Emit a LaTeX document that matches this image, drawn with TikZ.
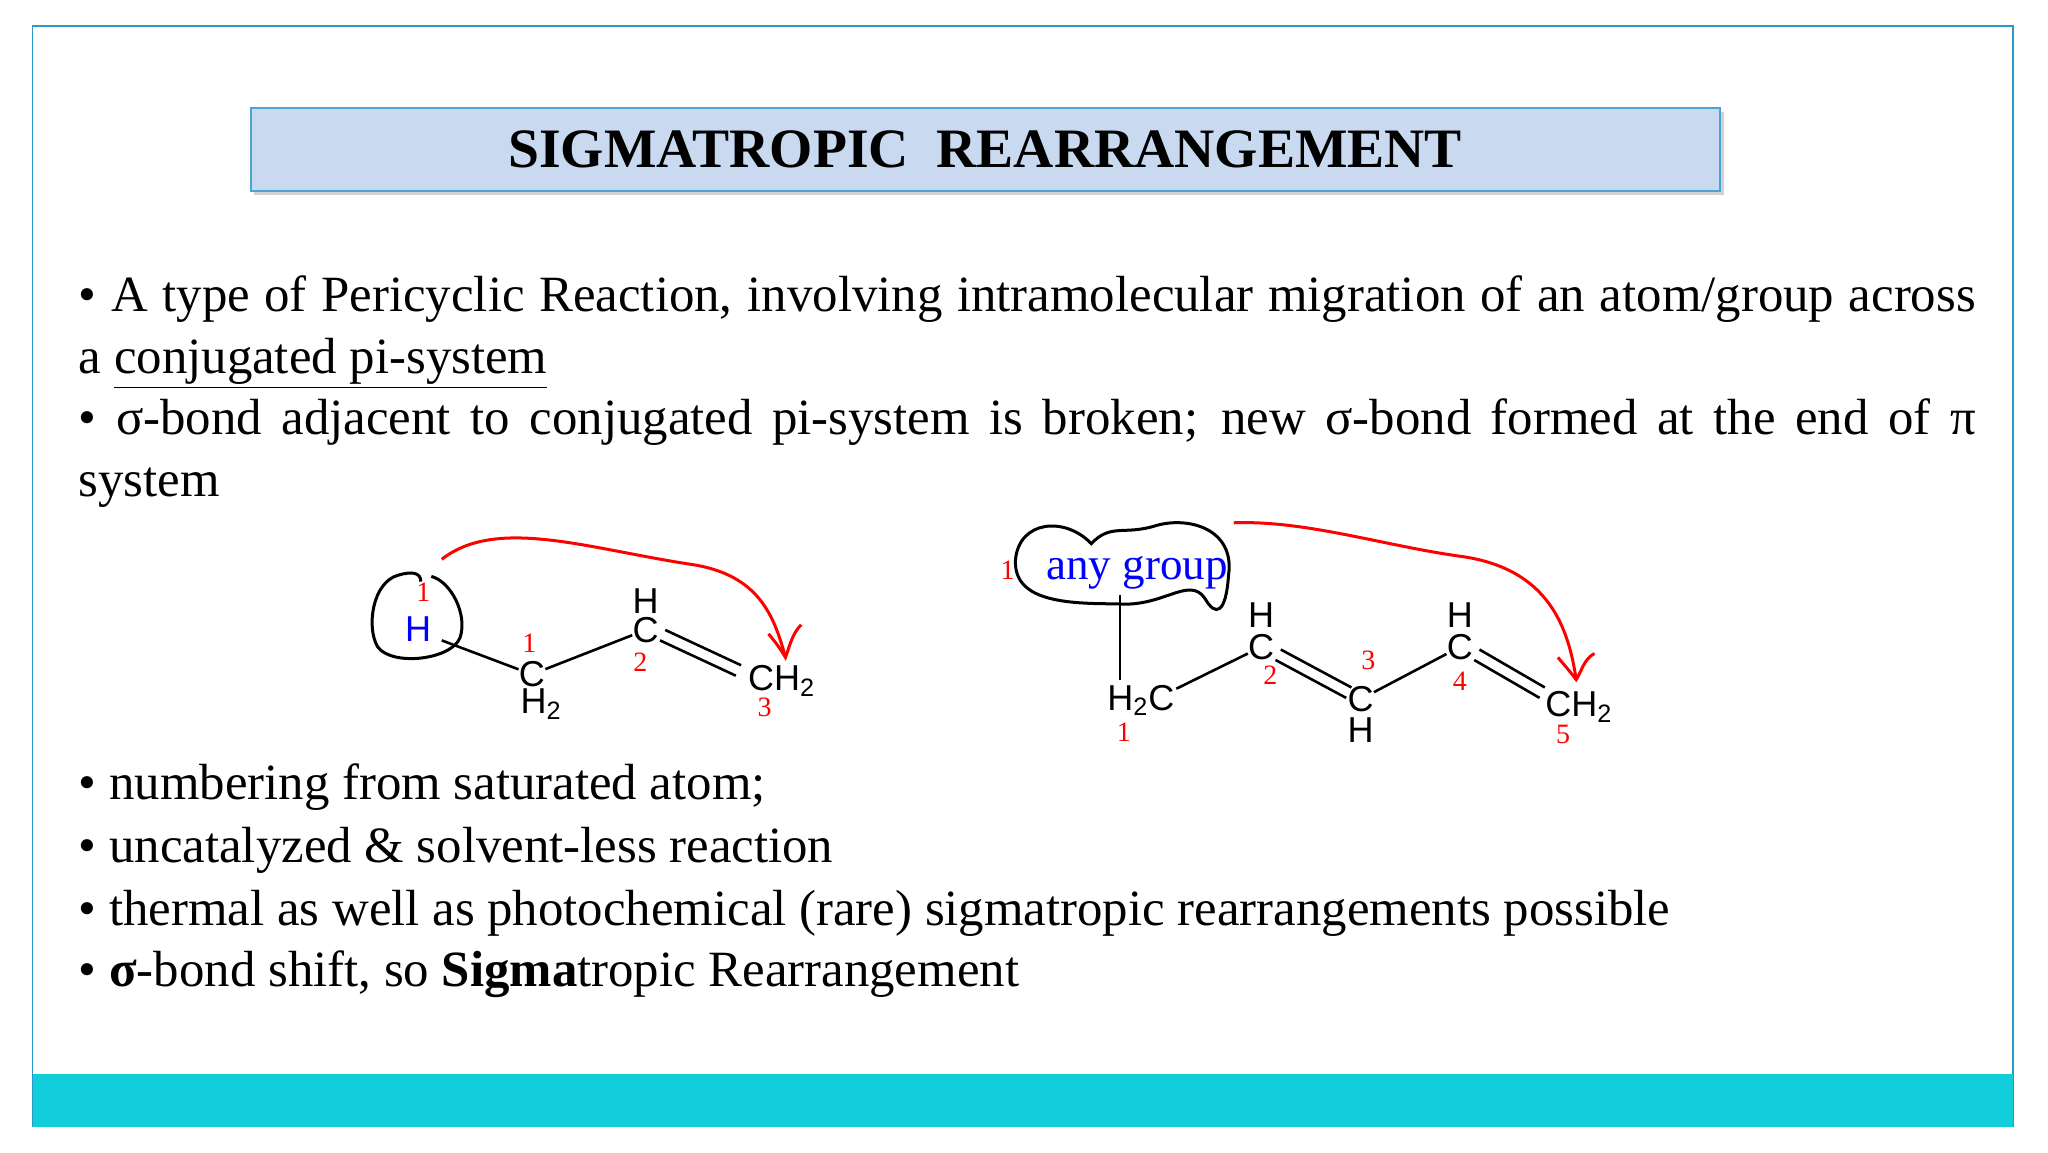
\documentclass[tikz,border=0pt]{standalone}
\usepackage{fontspec}
\setmainfont{Liberation Serif}
\newfontfamily\molfont{Liberation Sans}
\begin{document}
\begin{tikzpicture}[x=0.6532pt,y=-0.6532pt,
  body/.style={anchor=base west,inner sep=0pt,font=\fontsize{25.4}{31}\selectfont},
  para/.style={anchor=north west,inner sep=0pt,text width=948pt,align=justify,font=\fontsize{25.4}{31}\selectfont},
  atom/.style={inner sep=0pt,font=\molfont\fontsize{18}{18}\selectfont},
  num/.style={inner sep=0pt,text=red,font=\fontsize{14}{14}\selectfont},
  bond/.style={line width=1.3pt},
  arr/.style={red,line width=1.5pt},
  blob/.style={line width=1.5pt}]
\useasboundingbox (0,0) rectangle (1567,881.5);
\fill[white] (0,0) rectangle (1567,881.5);
\draw[draw=cyan!60!teal,line width=0.8pt] (25,20) rectangle (1540,862);
\fill[fill={rgb,255:red,17;green,206;blue,218}] (25,822) rectangle (1540,862);
% title
\fill[gray!35] (194,86) rectangle (1319,149);
\node[draw={rgb,255:red,75;green,163;blue,211},line width=1pt,fill={rgb,255:red,201;green,218;blue,240},minimum width=1124*0.6532pt,minimum height=63*0.6532pt,inner sep=0pt,anchor=north west] (title) at (191,82) {};
\node[font=\bfseries\fontsize{27.8}{28}\selectfont] (tt) at (title.center) {SIGMATROPIC\ \ REARRANGEMENT};
% paragraphs
\node[para] (p1) at (60,211) {\textbullet\ A type of Pericyclic Reaction, involving intramolecular migration of an atom/group across\linebreak a \underline{conjugated pi-system}};
\node[para] (p2) at (60,305) {\textbullet\ σ-bond adjacent to conjugated pi-system is broken; new σ-bond formed at the end of π\linebreak system};
\node[body] (b1) at (60,612) {\textbullet\ numbering from saturated atom;};
\node[body] (b2) at (60,660) {\textbullet\ uncatalyzed \& solvent-less reaction};
\node[body] (b3) at (60,708) {\textbullet\ thermal as well as photochemical (rare) sigmatropic rearrangements possible};
\node[body] (b4) at (60,755) {\textbullet\ \textbf{σ}-bond shift, so \textbf{Sigma}tropic Rearrangement};
% molecule 1
\draw[blob] (330,441) .. controls (345,445) and (358,470) .. (352,488)
  .. controls (345,505) and (300,510) .. (289,495)
  .. controls (280,480) and (285,445) .. (305,440)
  .. controls (315,437) and (322,438) .. (322,445);
\node[atom,text=blue] (h) at (320,481) {H};
\node[num] (n1a) at (324,453) {1};
\node[atom] (c1) at (407,516) {C};
\node[atom] (c1h) at (414,539) {H\textsubscript{2}};
\node[num] (n1b) at (405,492) {1};
\node[atom] (c2) at (494,482) {C};
\node[atom] (c2h) at (494,460) {H};
\node[num] (n2) at (490,507) {2};
\node[atom] (c3) at (598,521) {CH\textsubscript{2}};
\node[num] (n3) at (585,541) {3};
\draw[bond] (338,490) -- (c1);
\draw[bond] (c1) -- (c2);
\draw[bond] (505,490) -- (563,517);
\draw[bond] (509,482) -- (567,509);
\coordinate (a1s) at (338,428);
\coordinate (a1e) at (601,503);
\draw[arr] (a1s) .. controls (380,395) and (450,420) .. (530,432) .. controls (580,440) and (592,470) .. (a1e);
\draw[arr] (588,485) .. controls (594,492) and (598,498) .. (a1e) .. controls (604,495) and (606,485) .. (613,478);
% molecule 2
\draw[blob] (835,416) .. controls (850,400) and (860,410) .. (885,402)
  .. controls (910,395) and (945,405) .. (940,440)
  .. controls (938,470) and (930,472) .. (922,458)
  .. controls (910,440) and (890,465) .. (855,462)
  .. controls (815,462) and (775,460) .. (777,428)
  .. controls (780,398) and (815,395) .. (835,416) -- cycle;
\node[atom,text=blue,font=\fontsize{22.5}{22}\selectfont] (grp) at (870,438) {any group};
\node[num] (g1) at (771,436) {1};
\node[atom] (m1) at (873,536) {H\textsubscript{2}C};
\node[num] (m1n) at (860,560) {1};
\node[atom] (m2) at (965,495) {C};
\node[atom] (m2h) at (965,471) {H};
\node[num] (m2n) at (972,517) {2};
\node[atom] (m3) at (1041,535) {C};
\node[atom] (m3h) at (1041,559) {H};
\node[num] (m3n) at (1047,505) {3};
\node[atom] (m4) at (1117,495) {C};
\node[atom] (m4h) at (1117,471) {H};
\node[num] (m4n) at (1117,521) {4};
\node[atom] (m5) at (1208,541) {CH\textsubscript{2}};
\node[num] (m5n) at (1196,562) {5};
\draw[bond] (857,455) -- (857,520);
\draw[bond] (900,527) -- (m2);
\draw[bond] (976,505) -- (1030,534);
\draw[bond] (980,497) -- (1034,526);
\draw[bond] (m3) -- (m4);
\draw[bond] (1128,505) -- (1178,534);
\draw[bond] (1132,497) -- (1182,526);
\coordinate (a2s) at (944,400);
\coordinate (a2e) at (1206,520);
\draw[arr] (a2s) .. controls (1000,398) and (1060,418) .. (1120,426) .. controls (1185,436) and (1200,480) .. (a2e);
\draw[arr] (1192,503) .. controls (1198,510) and (1203,516) .. (a2e) .. controls (1210,514) and (1212,504) .. (1220,500);
\end{tikzpicture}
\end{document}
